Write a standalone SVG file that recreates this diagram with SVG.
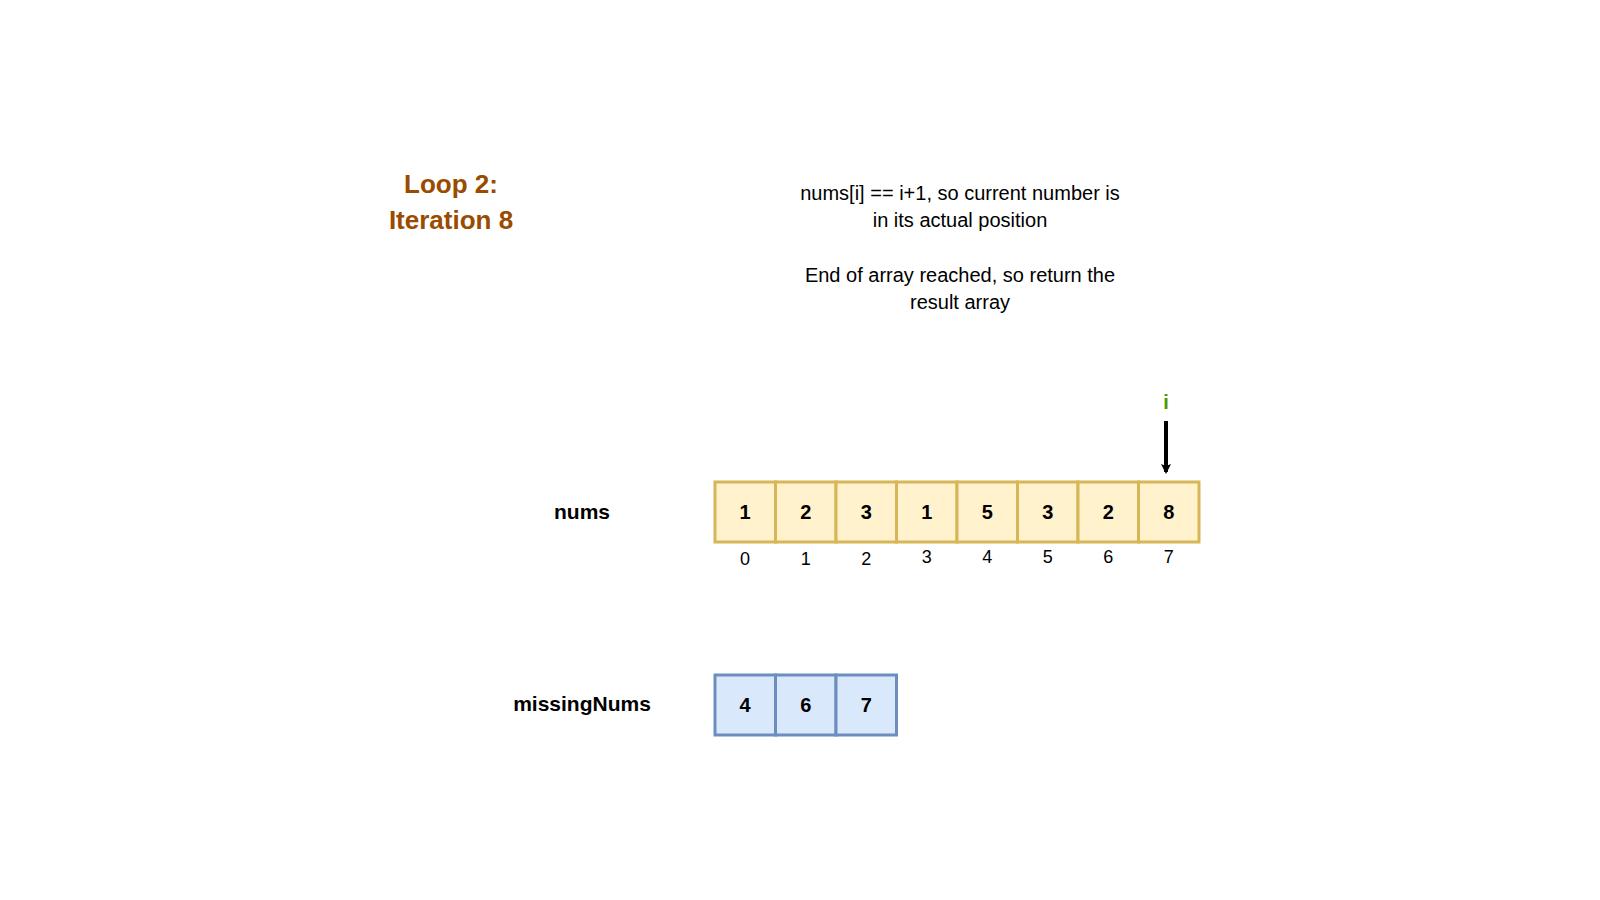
<svg xmlns="http://www.w3.org/2000/svg" width="1600" height="900" viewBox="0 0 1600 900">
<style>
text{font-family:"Liberation Sans",Arial,sans-serif;text-anchor:middle}
.y{fill:#fff2cc;stroke:#d6b656;stroke-width:3}
.b{fill:#dae8fc;stroke:#6c8ebf;stroke-width:3}
.v{font-size:20px;font-weight:bold;fill:#000}
.ix{font-size:18px;fill:#000}
.d{font-size:20px;fill:#000}
</style>
<defs><marker id="ah" markerWidth="10" markerHeight="10" refX="8" refY="5" orient="auto" markerUnits="userSpaceOnUse" viewBox="0 0 10 10"><path d="M0,0 L10,5 L0,10 L2,5 z" fill="#000"/></marker></defs>
<rect width="1600" height="900" fill="#fff"/>
<g id="title"><text x="451" y="193" font-size="26" font-weight="bold" fill="#994c00">Loop 2:</text><text x="451" y="229" font-size="26" font-weight="bold" fill="#994c00">Iteration 8</text></g>
<g id="desc"><text class="d" x="960" y="200">nums[i] == i+1, so current number is</text><text class="d" x="960" y="227">in its actual position</text><text class="d" x="960" y="282">End of array reached, so return the</text><text class="d" x="960" y="309">result array</text></g>
<g id="labels"><text x="582" y="519" font-size="21" font-weight="bold">nums</text><text x="582" y="711" font-size="21" font-weight="bold">missingNums</text></g>
<g id="pointer"><text x="1166" y="409" font-size="20" font-weight="bold" fill="#4d9900">i</text></g>
<g id="connectors"><line x1="1166" y1="421" x2="1166" y2="472" stroke="#000" stroke-width="4" marker-end="url(#ah)"/></g>
<g id="nums">
<rect class="y" x="715" y="482" width="60.5" height="60"/><text class="v" x="745" y="519">1</text>
<rect class="y" x="775.5" y="482" width="60.5" height="60"/><text class="v" x="805.7" y="519">2</text>
<rect class="y" x="836" y="482" width="60.5" height="60"/><text class="v" x="866.2" y="519">3</text>
<rect class="y" x="896.5" y="482" width="60.5" height="60"/><text class="v" x="926.7" y="519">1</text>
<rect class="y" x="957" y="482" width="60.5" height="60"/><text class="v" x="987.2" y="519">5</text>
<rect class="y" x="1017.5" y="482" width="60.5" height="60"/><text class="v" x="1047.7" y="519">3</text>
<rect class="y" x="1078" y="482" width="60.5" height="60"/><text class="v" x="1108.2" y="519">2</text>
<rect class="y" x="1138.5" y="482" width="60.5" height="60"/><text class="v" x="1168.7" y="519">8</text>
</g>
<g id="indices">
<text class="ix" x="745" y="565">0</text><text class="ix" x="805.7" y="565">1</text><text class="ix" x="866.2" y="565">2</text><text class="ix" x="926.7" y="563">3</text><text class="ix" x="987.2" y="563">4</text><text class="ix" x="1047.7" y="563">5</text><text class="ix" x="1108.2" y="563">6</text><text class="ix" x="1168.7" y="563">7</text>
</g>
<g id="missingNums">
<rect class="b" x="715" y="675" width="60.5" height="60"/><text class="v" x="745" y="712">4</text>
<rect class="b" x="775.5" y="675" width="60.5" height="60"/><text class="v" x="805.7" y="712">6</text>
<rect class="b" x="836" y="675" width="60.5" height="60"/><text class="v" x="866.2" y="712">7</text>
</g>
</svg>
